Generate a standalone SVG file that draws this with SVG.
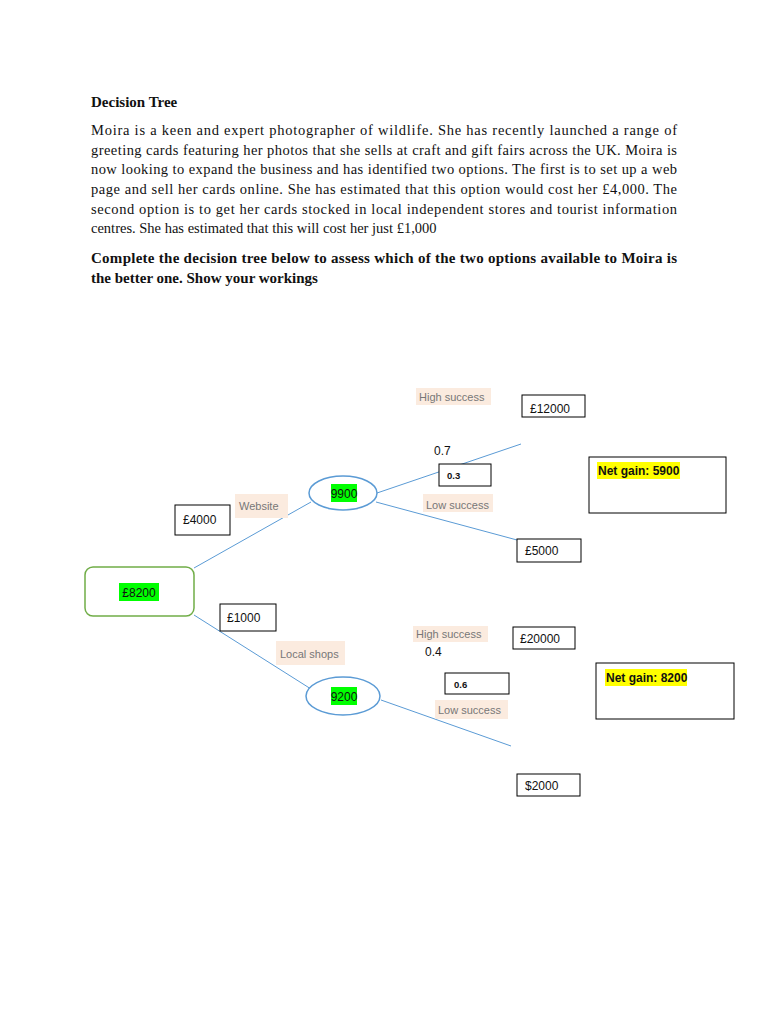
<svg xmlns="http://www.w3.org/2000/svg" width="768" height="1024" viewBox="0 0 768 1024">
<style>
.body{font-family:"Liberation Serif",serif;font-size:14.5px;fill:#111}
.bold{font-family:"Liberation Serif",serif;font-size:15px;font-weight:bold;fill:#111}
.box{fill:#fff;stroke:#000;stroke-width:1}
.val{font-family:"Liberation Sans",sans-serif;font-size:12px;fill:#111}
.sm{font-family:"Liberation Sans",sans-serif;font-size:9.5px;font-weight:bold;fill:#111}
.lbl{font-family:"Liberation Sans",sans-serif;font-size:11px;fill:#777}
.lblbg{fill:#FBEBDF}
.edge{stroke:#5B9BD5;stroke-width:1;fill:none}
.ell{fill:#fff;stroke:#5B9BD5;stroke-width:1.5}
.green{fill:#00FF00}
.yel{fill:#FFFF00}
.net{font-family:"Liberation Sans",sans-serif;font-size:12px;font-weight:bold;fill:#111}
</style>
<rect width="768" height="1024" fill="#fff"/>
<g id="intro">
<text class="bold" x="91" y="107">Decision Tree</text>
<text class="body" x="91" y="135" textLength="586" lengthAdjust="spacing">Moira is a keen and expert photographer of wildlife. She has recently launched a range of</text>
<text class="body" x="91" y="155" textLength="586" lengthAdjust="spacing">greeting cards featuring her photos that she sells at craft and gift fairs across the UK. Moira is</text>
<text class="body" x="91" y="174" textLength="586" lengthAdjust="spacing">now looking to expand the business and has identified two options. The first is to set up a web</text>
<text class="body" x="91" y="194" textLength="586" lengthAdjust="spacing">page and sell her cards online. She has estimated that this option would cost her £4,000. The</text>
<text class="body" x="91" y="214" textLength="586" lengthAdjust="spacing">second option is to get her cards stocked in local independent stores and tourist information</text>
<text class="body" x="91" y="233">centres. She has estimated that this will cost her just £1,000</text>
<text class="bold" x="91" y="263" textLength="586" lengthAdjust="spacing">Complete the decision tree below to assess which of the two options available to Moira is</text>
<text class="bold" x="91" y="283">the better one. Show your workings</text>
</g>
<g id="connectors">
<line class="edge" x1="194" y1="568" x2="311" y2="502"/>
<line class="edge" x1="194" y1="615" x2="311" y2="689"/>
<line class="edge" x1="377" y1="493" x2="521" y2="444"/>
<line class="edge" x1="376" y1="502" x2="517" y2="540"/>
<line class="edge" x1="381" y1="700" x2="511" y2="746"/>
</g>
<g id="root">
<rect x="85" y="567" width="109" height="49" rx="8" fill="#fff" stroke="#70AD47" stroke-width="1.5"/>
<rect class="green" x="119" y="583" width="40" height="18"/>
<text class="val" x="139" y="597" text-anchor="middle" font-size="13">£8200</text>
</g>
<g id="chance-website">
<ellipse class="ell" cx="343" cy="493" rx="34" ry="17"/>
<rect class="green" x="331" y="484" width="26" height="18"/>
<text class="val" x="344" y="498" text-anchor="middle" font-size="12">9900</text>
</g>
<g id="chance-local">
<ellipse class="ell" cx="343" cy="696" rx="37" ry="19"/>
<rect class="green" x="331" y="687" width="26" height="18"/>
<text class="val" x="344" y="701" text-anchor="middle" font-size="12">9200</text>
</g>
<g id="cost-website">
<rect class="box" x="175" y="505" width="55" height="30"/>
<text class="val" x="183" y="524" font-size="13">£4000</text>
</g>
<g id="cost-local">
<rect class="box" x="220" y="604" width="56" height="27"/>
<text class="val" x="227" y="622" font-size="13">£1000</text>
</g>
<g id="label-website">
<rect class="lblbg" x="235" y="494" width="53" height="24"/>
<text class="lbl" x="239" y="510">Website</text>
</g>
<g id="label-local">
<rect class="lblbg" x="276" y="641" width="69" height="24"/>
<text class="lbl" x="280" y="658">Local shops</text>
</g>
<g id="label-high1">
<rect class="lblbg" x="416" y="388" width="75" height="17"/>
<text class="lbl" x="419" y="401">High success</text>
</g>
<g id="label-low1">
<rect class="lblbg" x="423" y="494" width="70" height="18"/>
<text class="lbl" x="426" y="509">Low success</text>
</g>
<g id="label-high2">
<rect class="lblbg" x="413" y="626" width="75" height="16"/>
<text class="lbl" x="416" y="638">High success</text>
</g>
<g id="label-low2">
<rect class="lblbg" x="435" y="700" width="73" height="19"/>
<text class="lbl" x="438" y="714">Low success</text>
</g>
<g id="prob-07"><text class="val" x="434" y="455" font-size="10.5">0.7</text></g>
<g id="prob-04"><text class="val" x="425" y="656" font-size="10.5">0.4</text></g>
<g id="prob-03">
<rect class="box" x="439" y="464" width="52" height="22"/>
<text class="sm" x="447" y="479">0.3</text>
</g>
<g id="prob-06">
<rect class="box" x="445" y="673" width="64" height="21"/>
<text class="sm" x="454" y="688">0.6</text>
</g>
<g id="out-12000">
<rect class="box" x="522" y="395" width="63" height="22"/>
<text class="val" x="530" y="413" font-size="11">£12000</text>
</g>
<g id="out-5000">
<rect class="box" x="517" y="539" width="64" height="23"/>
<text class="val" x="525" y="555" font-size="11">£5000</text>
</g>
<g id="out-20000">
<rect class="box" x="513" y="627" width="62" height="22"/>
<text class="val" x="520" y="643" font-size="11">£20000</text>
</g>
<g id="out-2000">
<rect class="box" x="517" y="774" width="63" height="22"/>
<text class="val" x="525" y="790" font-size="11">$2000</text>
</g>
<g id="net-website">
<rect class="box" x="589" y="457" width="137" height="56"/>
<rect class="yel" x="597" y="462" width="83" height="17"/>
<text class="net" x="598" y="475">Net gain: 5900</text>
</g>
<g id="net-local">
<rect class="box" x="596" y="663" width="138" height="56"/>
<rect class="yel" x="605" y="669" width="82" height="17"/>
<text class="net" x="606" y="682">Net gain: 8200</text>
</g>
</svg>
